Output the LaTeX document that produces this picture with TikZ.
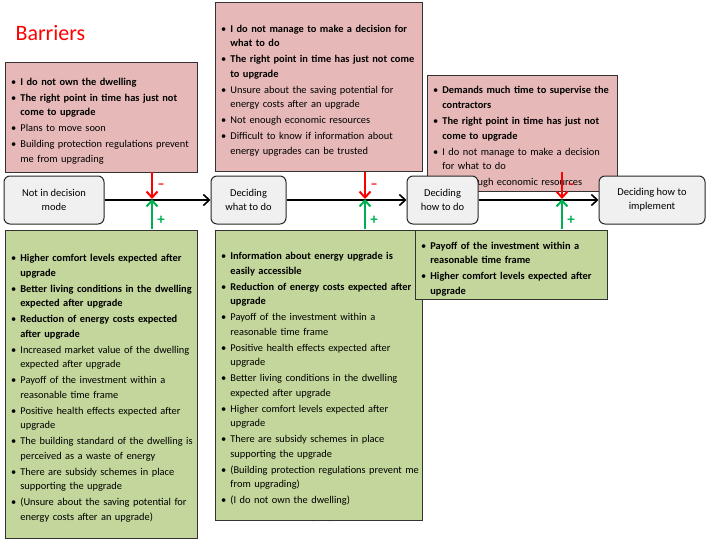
\documentclass[tikz,border=0pt]{standalone}
\usepackage{fontspec}
\setmainfont{Carlito}
\usetikzlibrary{arrows.meta}
\definecolor{rfill}{HTML}{E6B9B8}
\definecolor{gfill}{HTML}{C3D69B}
\definecolor{pfill}{HTML}{F0F0F0}
\definecolor{bred}{HTML}{FF0000}
\definecolor{bgreen}{HTML}{00B050}
\newenvironment{blist}{\hyphenpenalty=10000\exhyphenpenalty=10000\begin{list}{\textbullet}{\leftmargin=12pt\labelwidth=8pt\labelsep=4pt\itemsep=1.3pt\topsep=0pt\parsep=0pt\partopsep=0pt}}{\end{list}}
\tikzset{
 box/.style={draw=black!80, line width=0.8pt, anchor=north west, inner xsep=3pt, inner ysep=4pt,
   font=\fontsize{10.4}{14.6}\selectfont, align=left},
 bar/.style={box, fill=rfill},
 drv/.style={box, fill=gfill},
 proc/.style={draw=black!85, line width=1pt, fill=pfill, rounded corners=6pt, minimum height=48pt,
   font=\fontsize{10.5}{14}\selectfont, align=center},
 mainarr/.style={line width=1.6pt, -{Straight Barb[length=6pt,width=11pt,line width=1.6pt]}},
 negarr/.style={draw=bred, line width=2pt, -{Straight Barb[length=6pt,width=11pt,line width=2pt]}},
 posarr/.style={draw=bgreen, line width=2pt, -{Straight Barb[length=6pt,width=11pt,line width=2pt]}},
}
\begin{document}
\begin{tikzpicture}[x=1pt,y=-1pt]
\useasboundingbox (0,0) rectangle (708,543);
\node[font=\fontsize{22}{24}\selectfont, text=bred, anchor=west] (tb) at (12,33) {Barriers};
\node[font=\fontsize{22}{24}\selectfont, text=bgreen, anchor=west] (td) at (268,514) {Drivers};

\node[bar, text width=186pt, minimum height=110pt] (r1) at (5,62) {\begin{blist}
\item \textbf{I do not own the dwelling}
\item \textbf{The right point in time has just not come to upgrade}
\item Plans to move soon
\item Building protection regulations prevent me from upgrading\end{blist}};
\node[bar, text width=201pt, minimum height=169pt] (r2) at (215,2) {\begin{blist}
\item \textbf{I do not manage to make a decision for what to do}
\item \textbf{The right point in time has just not come to upgrade}
\item Unsure about the saving potential for energy costs after an upgrade
\item Not enough economic resources
\item Difficult to know if information about energy upgrades can be trusted\end{blist}};
\node[bar, text width=184pt, minimum height=97pt] (r3) at (427,75) {\begin{blist}
\item \textbf{Demands much time to supervise the contractors}
\item \textbf{The right point in time has just not come to upgrade}
\item I do not manage to make a decision for what to do
\item Not enough economic resources\end{blist}};

\node[drv, text width=186pt, minimum height=308pt] (g1) at (5,230) {\begin{blist}
\item \textbf{Higher comfort levels expected after upgrade}
\item \textbf{Better living conditions in the dwelling expected after upgrade}
\item \textbf{Reduction of energy costs expected after upgrade}
\item Increased market value of the dwelling expected after upgrade
\item Payoff of the investment within a reasonable time frame
\item Positive health effects expected after upgrade
\item The building standard of the dwelling is perceived as a waste of energy
\item There are subsidy schemes in place supporting the upgrade
\item (Unsure about the saving potential for energy costs after an upgrade)\end{blist}};
\node[drv, text width=201pt, minimum height=290pt] (g2) at (215,230) {\begin{blist}
\item \textbf{Information about energy upgrade is easily accessible}
\item \textbf{Reduction of energy costs expected after upgrade}
\item Payoff of the investment within a reasonable time frame
\item Positive health effects expected after upgrade
\item Better living conditions in the dwelling expected after upgrade
\item Higher comfort levels expected after upgrade
\item There are subsidy schemes in place supporting the upgrade
\item (Building protection regulations prevent me from upgrading)
\item (I do not own the dwelling)\end{blist}};
\node[drv, text width=186pt, minimum height=67pt] (g3) at (415,230) {\begin{blist}
\item \textbf{Payoff of the investment within a reasonable time frame}
\item \textbf{Higher comfort levels expected after upgrade}\end{blist}};

\node[proc, minimum width=100pt] (p1) at (54,200) {Not in decision\\mode};
\node[proc, minimum width=75pt] (p2) at (248.5,200) {Deciding\\what to do};
\node[proc, minimum width=71pt] (p3) at (442.5,200) {Deciding\\how to do};
\node[proc, minimum width=106pt] (p4) at (652,200) {Deciding how to\\implement};

\draw[mainarr] (p1) -- (p2);
\draw[mainarr] (p2) -- (p3);
\draw[mainarr] (p3) -- (p4);

\foreach \x/\n in {152/a,365/b,562/c}{
  \coordinate (t\n) at (\x,172);
  \coordinate (m\n) at (\x,199);
  \coordinate (b\n) at (\x,229);
  \draw[negarr] (t\n) -- (m\n);
  \draw[posarr] (b\n) -- (m\n);
  \node[text=bred, font=\fontsize{14}{14}\selectfont\bfseries] (mi\n) at (\x+9,186) {--};
  \node[text=bgreen, font=\fontsize{15}{15}\selectfont\bfseries] (pl\n) at (\x+9,220) {+};
}
\end{tikzpicture}
\end{document}
